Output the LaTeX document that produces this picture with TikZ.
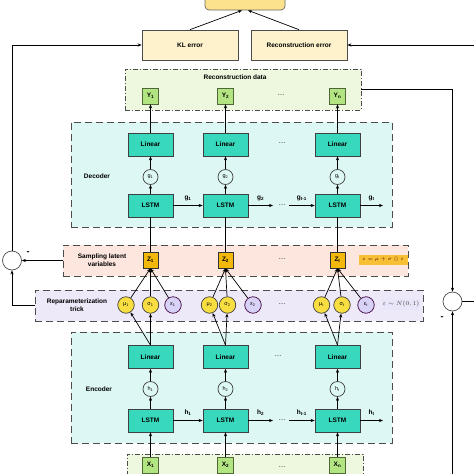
\documentclass[tikz,border=0pt]{standalone}
\usepackage{fontspec}
\setmainfont{Liberation Sans}
\usepackage{amsmath,amssymb}
\usetikzlibrary{arrows.meta,positioning}
\definecolor{topfill}{RGB}{252,226,140}
\definecolor{errfill}{RGB}{253,242,204}
\definecolor{datafill}{RGB}{238,248,223}
\definecolor{ygreen}{RGB}{178,228,130}
\definecolor{codefill}{RGB}{221,248,244}
\definecolor{tealbox}{RGB}{56,216,188}
\definecolor{sampfill}{RGB}{252,230,222}
\definecolor{zgold}{RGB}{242,184,10}
\definecolor{fgold}{RGB}{247,192,52}
\definecolor{repfill}{RGB}{237,233,249}
\definecolor{pyellow}{RGB}{248,222,64}
\definecolor{plav}{RGB}{216,210,246}

\begin{document}
\begin{tikzpicture}[x=1pt,y=-1pt,
      font=\bfseries\fontsize{6.5}{7.5}\selectfont,
      line width=0.7pt,
      >={Stealth[length=4pt,width=3.2pt]},
      reg/.style={draw=black!70,line width=0.9pt,dash pattern=on 7pt off 4pt,inner sep=0pt},
      dreg/.style={draw=black!70,line width=0.9pt,dash pattern=on 5pt off 2pt on 1pt off 2pt,
                   fill=datafill,inner sep=0pt},
      err/.style={draw=black!70,fill=errfill,minimum width=96pt,minimum height=30pt},
      blk/.style={draw=black!75,fill=tealbox,minimum width=45pt,minimum height=23pt,inner sep=0pt},
      st/.style={circle,draw=black!75,fill=codefill,minimum size=15pt,inner sep=0pt,
                 font=\fontsize{5.5}{6}\selectfont},
      yb/.style={draw=ygreen!45!black,fill=ygreen,minimum width=16pt,minimum height=16pt,inner sep=0pt},
      zb/.style={draw=black!80,fill=zgold,minimum width=15pt,minimum height=16pt,inner sep=0pt},
      pr/.style={circle,draw=black!75,fill=pyellow,minimum size=16.5pt,inner sep=0pt,
                 font=\fontsize{5.5}{6}\selectfont},
      ep/.style={pr,fill=plav,draw=violet!50!black},
      sum/.style={circle,draw=black!70,fill=white,minimum size=19pt,inner sep=0pt},
      minus/.style={font=\bfseries\fontsize{9}{9}\selectfont},
      dots/.style={font=\normalfont\fontsize{7}{7}\selectfont}]
      \useasboundingbox (0,0) rectangle (474,474);
      \clip (0,0) rectangle (474,474);
      % Losses
      \node[draw=black!60,fill=topfill,rounded corners=4pt,minimum width=80pt,minimum height=30pt] (top) at (245,-5) {};
      \node[err] (kl) at (190,45) {KL error};
      \node[err] (rec) at (299,45) {Reconstruction error};
      \draw[->] (kl.north) -- ([xshift=-3pt]top.south);
      \draw[->] (rec.north) -- ([xshift=3pt]top.south);
      % Regions
      \node[dreg,minimum width=236pt,minimum height=41pt] (rdata) at (243,89.5) {};
      \node[reg,fill=codefill,minimum width=321pt,minimum height=105pt] (dec) at (231.5,174.5) {};
      \node[reg,fill=sampfill,minimum width=345pt,minimum height=31pt] (samp) at (235.5,260.5) {};
      \node[reg,fill=repfill,minimum width=388pt,minimum height=31pt] (rep) at (229,305.5) {};
      \node[reg,fill=codefill,minimum width=321pt,minimum height=111pt] (enc) at (231.5,387.5) {};
      \node[dreg,minimum width=236pt,minimum height=41pt] (idata) at (245,474.5) {};
      % Region labels
      \node at (235,77) {Reconstruction data};
      \node at (97,176) {Decoder};
      \node[align=center] at (102,260) {Sampling latent\\variables};
      \node[align=center] at (77,305) {Reparameterization\\trick};
      \node at (99,389) {Encoder};
      % Reconstructed outputs
      \node[yb] (y1) at (150.5,96) {Y\textsubscript{1}};
      \node[yb] (y2) at (225.5,96) {Y\textsubscript{2}};
      \node[yb] (yn) at (337.5,96) {Y\textsubscript{n}};
      \node[dots] at (281,95) {\dots};
      % Decoder
      \node[blk] (dl1) at (150.5,144.5) {Linear};
      \node[blk] (dl2) at (225.5,144.5) {Linear};
      \node[blk] (dl3) at (337.5,144.5) {Linear};
      \node[dots] at (282,143) {\dots};
      \node[st] (g1) at (150.5,177) {g\textsubscript{1}};
      \node[st] (g2) at (225.5,177) {g\textsubscript{2}};
      \node[st] (g3) at (337.5,177) {g\textsubscript{t}};
      \node[blk] (dm1) at (150.5,205.5) {LSTM};
      \node[blk] (dm2) at (225.5,205.5) {LSTM};
      \node[blk] (dm3) at (337.5,205.5) {LSTM};
      \node[dots] at (282,205) {\dots};
      \coordinate (dg2) at (273,205.5);
      \coordinate (dg3) at (289,205.5);
      \coordinate (dgt) at (383,205.5);
      \draw[->] (dm1) -- node[above=1pt] {g\textsubscript{1}} (dm2);
      \draw[->] (dm2) -- node[above=1pt] {g\textsubscript{2}} (dg2);
      \draw[->] (dg3) -- node[above=1pt] {g\textsubscript{t-1}} (dm3);
      \draw[->] (dm3) -- node[above=1pt] {g\textsubscript{t}} (dgt);
      \draw[->] (dm1) -- (g1);
      \draw[->] (dm2) -- (g2);
      \draw[->] (dm3) -- (g3);
      \draw[->] (g1) -- (dl1);
      \draw[->] (g2) -- (dl2);
      \draw[->] (g3) -- (dl3);
      \draw[->] (dl1) -- (y1);
      \draw[->] (dl2) -- (y2);
      \draw[->] (dl3) -- (yn);
      % Latent variables
      \node[zb] (z1) at (150.5,260) {Z\textsubscript{1}};
      \node[zb] (z2) at (225.5,260) {Z\textsubscript{2}};
      \node[zb] (z3) at (337.5,260) {Z\textsubscript{t}};
      \node[dots] at (282,259) {\dots};
      \node[fill=fgold,minimum width=49pt,minimum height=10pt,inner sep=0pt,
            font=\normalfont\fontsize{5.2}{5.2}\selectfont,text=red!35!black] at (383,259.5) {$z=\mu+\sigma\odot\varepsilon$};
      \draw (z1) -- (dm1);
      \draw (z2) -- (dm2);
      \draw (z3) -- (dm3);
      % Reparameterization
      \node[pr] (mu1) at (126,305) {μ\textsubscript{1}};
      \node[pr] (sg1) at (150.5,305) {σ\textsubscript{1}};
      \node[ep] (ep1) at (173,305) {ε\textsubscript{1}};
      \node[pr] (mu2) at (209.5,305) {μ\textsubscript{2}};
      \node[pr] (sg2) at (227.5,305) {σ\textsubscript{2}};
      \node[ep] (ep2) at (253,305) {ε\textsubscript{2}};
      \node[dots] at (282,304) {\dots};
      \node[pr] (mu3) at (321.5,305) {μ\textsubscript{t}};
      \node[pr] (sg3) at (342,305) {σ\textsubscript{t}};
      \node[ep] (ep3) at (366,305) {ε\textsubscript{t}};
      \node[fill=plav!55,minimum width=38pt,minimum height=11pt,inner sep=0pt,
            font=\normalfont\fontsize{6}{6}\selectfont,text=black!75] at (401,304) {$\varepsilon\sim N(0,1)$};
      \draw[->] (mu1) -- (z1.south);
      \draw[->] (sg1) -- (z1.south);
      \draw[->] (ep1) -- (z1.south);
      \draw[->] (mu2) -- (z2.south);
      \draw[->] (sg2) -- (z2.south);
      \draw[->] (ep2) -- (z2.south);
      \draw[->] (mu3) -- (z3.south);
      \draw[->] (sg3) -- (z3.south);
      \draw[->] (ep3) -- (z3.south);
      % Encoder
      \node[blk] (el1) at (150.5,357) {Linear};
      \node[blk] (el2) at (225.5,357) {Linear};
      \node[blk] (el3) at (337.5,357) {Linear};
      \node[dots] at (278,356) {\dots};
      \node[st] (h1) at (150.5,389) {h\textsubscript{1}};
      \node[st] (h2) at (225.5,389) {h\textsubscript{2}};
      \node[st] (h3) at (337.5,389) {h\textsubscript{t}};
      \node[blk] (em1) at (150.5,420.5) {LSTM};
      \node[blk] (em2) at (225.5,420.5) {LSTM};
      \node[blk] (em3) at (337.5,420.5) {LSTM};
      \node[dots] at (282,420) {\dots};
      \coordinate (eh2) at (273,420.5);
      \coordinate (eh3) at (289,420.5);
      \coordinate (eht) at (383,420.5);
      \draw[->] (em1) -- node[above=1pt] {h\textsubscript{1}} (em2);
      \draw[->] (em2) -- node[above=1pt] {h\textsubscript{2}} (eh2);
      \draw[->] (eh3) -- node[above=1pt] {h\textsubscript{t-1}} (em3);
      \draw[->] (em3) -- node[above=1pt] {h\textsubscript{t}} (eht);
      \draw[->] (em1) -- (h1);
      \draw[->] (em2) -- (h2);
      \draw[->] (em3) -- (h3);
      \draw[->] (h1) -- (el1);
      \draw[->] (h2) -- (el2);
      \draw[->] (h3) -- (el3);
      \draw[->] (el1.north) -- (mu1);
      \draw[->] (el1.north) -- (sg1);
      \draw[->] (el2.north) -- (mu2);
      \draw[->] (el2.north) -- (sg2);
      \draw[->] (el3.north) -- (mu3);
      \draw[->] (el3.north) -- (sg3);
      % Inputs
      \node[yb] (x1) at (150.5,465) {X\textsubscript{1}};
      \node[yb] (x2) at (225.5,465) {X\textsubscript{2}};
      \node[yb] (xn) at (337.5,465) {X\textsubscript{n}};
      \node[dots] at (282,467) {\dots};
      \draw[->] (x1) -- (em1);
      \draw[->] (x2) -- (em2);
      \draw[->] (xn) -- (em3);
      % Feedback loops
      \node[sum] (cl) at (12,260.5) {};
      \node[sum] (cr) at (452.5,301.5) {};
      \draw[->] (samp.west) -- (cl);
      \draw[->] (rep.west) -| (cl.south);
      \draw[->] (cl.north) |- (kl.west);
      \draw[->] (rdata.east) -| (cr.north);
      \draw[->] (idata.east) -| (cr.south);
      \draw[->] (cr.east) -- ++(18,0) |- (rec.east);
      \node[minus] at (28,253) {-};
      \node[minus] at (442,318) {-};
\end{tikzpicture}
\end{document}
